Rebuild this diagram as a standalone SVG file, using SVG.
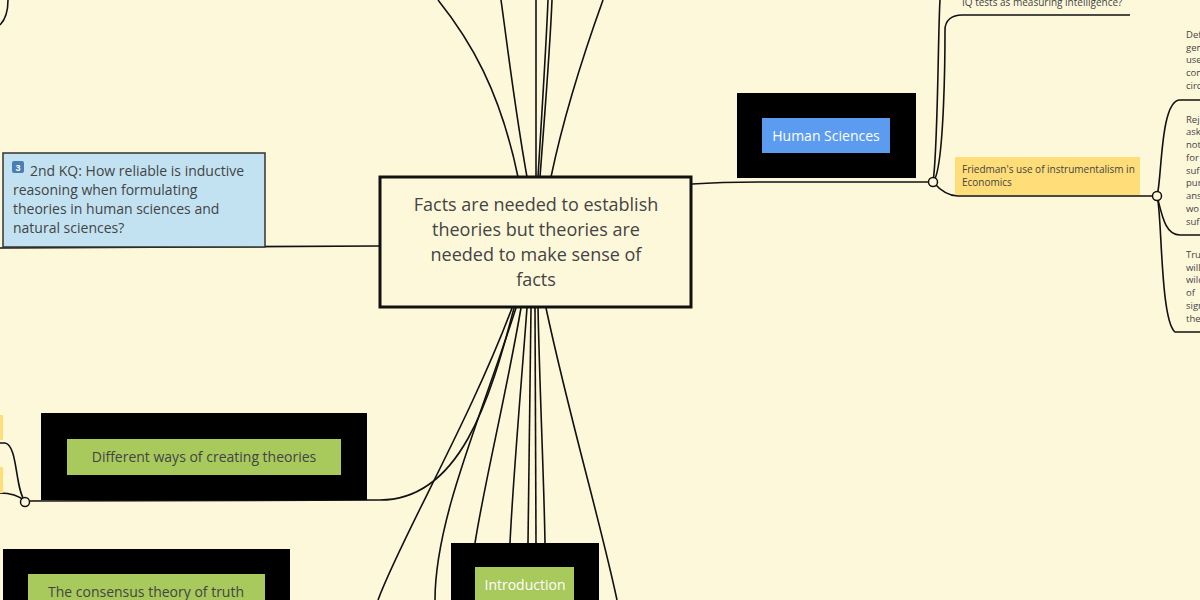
<svg xmlns="http://www.w3.org/2000/svg" width="1200" height="600" viewBox="0 0 1200 600">
<style>
.c{fill:none;stroke:#111;stroke-width:1.6}
.t{font-family:"Open Sans","Liberation Sans",sans-serif;fill:#444}
.w{fill:#fff}
.blk{fill:#000}
.grn{fill:#a8c95c}
.dot{fill:#fef8db;stroke:#111;stroke-width:1.5}
</style>
<rect width="1200" height="600" fill="#fef8db"/>
<g id="connectors">
<path class="c" d="M518 177 C500 90 470 40 438 0"/>
<path class="c" d="M527 177 C515 110 508 50 501 0"/>
<path class="c" d="M536 177 L536 0"/>
<path class="c" d="M538 177 C542 110 546 50 548 0"/>
<path class="c" d="M540 177 C545 110 550 50 552 0"/>
<path class="c" d="M551 177 C565 110 585 50 603 0"/>
<path class="c" d="M379 246 L0 248"/>
<path class="c" d="M692 184 C720 182 740 182 760 182 L933 182"/>
<path class="c" d="M933 182 C945 170 945 40 945 30 C945 20 952 15 962 15 L1130 15"/>
<path class="c" d="M933 182 C938 150 938 30 940 0"/>
<path class="c" d="M933 182 C940 190 948 196 958 196 L1157 196"/>
<path class="c" d="M1157 196 C1162 180 1160 100 1180 100 L1200 100"/>
<path class="c" d="M1157 196 C1162 215 1165 235 1180 235 L1200 235"/>
<path class="c" d="M1157 196 C1162 210 1160 320 1175 332 L1200 332"/>
<path class="c" d="M514 308 C490 400 460 500 380 500 L25 501"/>
<path class="c" d="M25 501 C15 490 18 445 5 443 L0 443"/>
<path class="c" d="M25 501 C18 495 10 493 0 493"/>
<path class="c" d="M512 308 C470 420 400 540 378 600"/>
<path class="c" d="M516 308 C480 420 435 520 435 600"/>
<path class="c" d="M521 308 C505 400 485 480 475 543"/>
<path class="c" d="M527 308 C520 400 513 480 510 543"/>
<path class="c" d="M531 308 L528 543"/>
<path class="c" d="M535 308 L536 543"/>
<path class="c" d="M538 308 C540 400 544 480 545 543"/>
<path class="c" d="M546 308 C570 420 600 520 617 600"/>
<path class="c" d="M8 0 C8 12 5 20 0 25"/>
</g>
<g id="center">
<rect x="380" y="177" width="311" height="130" fill="#fef8db" stroke="#111" stroke-width="3"/>
<g class="t" font-size="18" text-anchor="middle">
<text x="536" y="211">Facts are needed to establish</text>
<text x="536" y="236">theories but theories are</text>
<text x="536" y="261">needed to make sense of</text>
<text x="536" y="286">facts</text>
</g>
</g>
<g id="human-sciences">
<rect class="blk" x="737" y="93" width="179" height="85"/>
<rect x="762" y="118" width="128" height="35" fill="#5b9cf0"/>
<text class="t w" x="826" y="141" font-size="14" text-anchor="middle">Human Sciences</text>
<circle class="dot" cx="933" cy="182" r="4.5"/>
</g>
<g id="iq">
<text class="t" x="962" y="6" font-size="10">IQ tests as measuring intelligence?</text>
</g>
<g id="friedman">
<rect x="955" y="157" width="185" height="38" fill="#ffdd78"/>
<text class="t" x="962" y="173" font-size="10">Friedman's use of instrumentalism in</text>
<text class="t" x="962" y="186" font-size="10">Economics</text>
<circle class="dot" cx="1157" cy="196" r="4.5"/>
</g>
<g id="right-texts" class="t" font-size="9.5">
<text x="1186" y="38">Def</text><text x="1186" y="51">gen</text><text x="1186" y="63">use</text><text x="1186" y="76">con</text><text x="1186" y="89">circ</text>
<text x="1186" y="123">Rej</text><text x="1186" y="135">ask</text><text x="1186" y="148">not</text><text x="1186" y="161">for</text><text x="1186" y="174">suf</text><text x="1186" y="186">pur</text><text x="1186" y="199">ans</text><text x="1186" y="212">wo</text><text x="1186" y="225">suf</text>
<text x="1186" y="258">Tru</text><text x="1186" y="271">will</text><text x="1186" y="283">wild</text><text x="1186" y="296">of</text><text x="1186" y="309">sign</text><text x="1186" y="322">the</text>
</g>
<g id="kq">
<rect x="3" y="153" width="262" height="94" fill="#c2e2f2" stroke="#333" stroke-width="1.5"/>
<rect x="12" y="161" width="12" height="12" rx="2" fill="#4a7fb5"/>
<text x="18" y="171" font-size="9" text-anchor="middle" fill="#fff" font-family="Liberation Sans,sans-serif" font-weight="bold">3</text>
<g class="t" font-size="14">
<text x="30" y="176">2nd KQ: How reliable is inductive</text>
<text x="13" y="195">reasoning when formulating</text>
<text x="13" y="214">theories in human sciences and</text>
<text x="13" y="233">natural sciences?</text>
</g>
</g>
<g id="left-yellow">
<rect x="0" y="415" width="3" height="25" fill="#ffdd78"/>
<rect x="0" y="467" width="3" height="26" fill="#ffdd78"/>
</g>
<g id="different-ways">
<rect class="blk" x="41" y="413" width="326" height="87"/>
<rect class="grn" x="67" y="439" width="274" height="36"/>
<text class="t" x="204" y="462" font-size="14" text-anchor="middle">Different ways of creating theories</text>
<circle class="dot" cx="25" cy="502" r="4.5"/>
</g>
<g id="consensus">
<rect class="blk" x="3" y="549" width="287" height="51"/>
<rect class="grn" x="28" y="574" width="237" height="26"/>
<text class="t" x="146" y="597" font-size="14" text-anchor="middle">The consensus theory of truth</text>
</g>
<g id="introduction">
<rect class="blk" x="451" y="543" width="148" height="57"/>
<rect class="grn" x="475" y="567" width="99" height="33"/>
<text class="t w" x="525" y="590" font-size="14" text-anchor="middle">Introduction</text>
</g>
</svg>
